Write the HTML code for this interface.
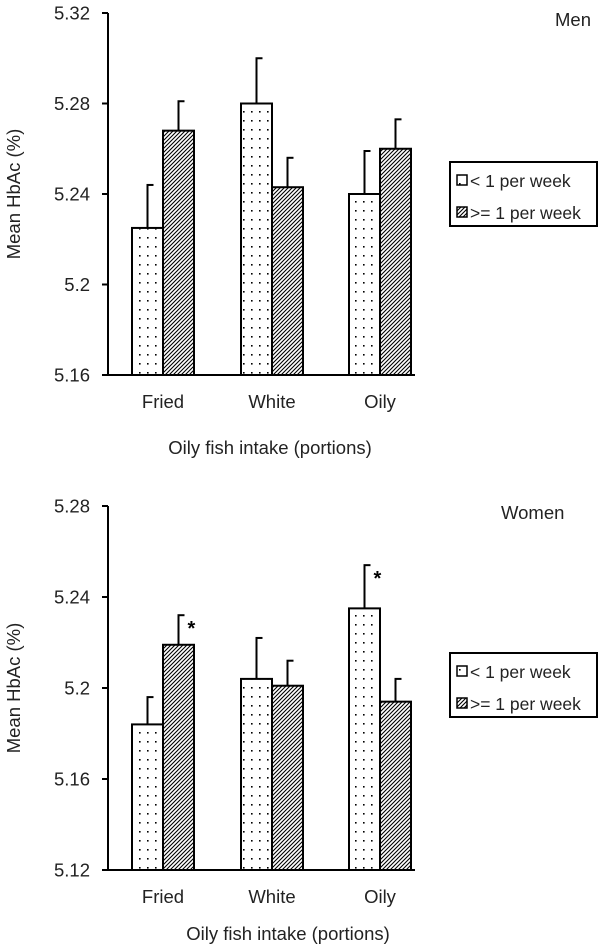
<!DOCTYPE html>
<html><head><meta charset="utf-8"><style>
html,body{margin:0;padding:0;background:#fff}
svg{display:block;font-family:"Liberation Sans",sans-serif}
</style></head><body>
<svg id="c" width="600" height="944" viewBox="0 0 600 944" xmlns="http://www.w3.org/2000/svg">
<defs>
<pattern id="dots" width="8" height="9" patternUnits="userSpaceOnUse"><rect width="8" height="9" fill="#fff"/><rect x="3" y="3" width="1.6" height="1.6" fill="#000"/></pattern>
<pattern id="hatch" width="4" height="4" patternUnits="userSpaceOnUse"><rect width="4" height="4" fill="#fff"/><path d="M-1,5 L5,-1 M-1,1 L1,-1 M3,5 L5,3" stroke="#000" stroke-width="1.1"/></pattern>
</defs>
<g id="top"></g><g id="bot"></g>
</svg>
<script>
const categories = ["Fried","White","Oily"];
const menLow = [5.225, 5.280, 5.240];
const menLowErr = [0.019, 0.020, 0.019];
const menHigh = [5.268, 5.243, 5.260];
const menHighErr = [0.013, 0.013, 0.013];
const menTicks = [5.16, 5.2, 5.24, 5.28, 5.32];
const menTickLabels = ["5.16","5.2","5.24","5.28","5.32"];
const womenLow = [5.184, 5.204, 5.235];
const womenLowErr = [0.012, 0.018, 0.019];
const womenHigh = [5.219, 5.201, 5.194];
const womenHighErr = [0.013, 0.011, 0.010];
const womenStarLow = [false, false, true];
const womenStarHigh = [true, false, false];
const womenTicks = [5.12, 5.16, 5.2, 5.24, 5.28];
const womenTickLabels = ["5.12","5.16","5.2","5.24","5.28"];
const legendLabels = ["< 1 per week", ">= 1 per week"];

const NS="http://www.w3.org/2000/svg";
function mk(parent,tag,attrs,text){const e=document.createElementNS(NS,tag);for(const k in attrs)e.setAttribute(k,attrs[k]);if(text!==undefined)e.textContent=text;parent.appendChild(e);return e;}

function panel(g, o){
  const y=v=>o.y0-(v-o.vmin)/(o.vmax-o.vmin)*(o.y0-o.y1);
  const ax=mk(g,'line',{x1:108,y1:o.y1,x2:108,y2:o.y0+1,stroke:'#000','stroke-width':2});
  
  
  const bx=mk(g,'line',{x1:103,y1:o.y0,x2:415,y2:o.y0,stroke:'#000','stroke-width':2});
  
  
  o.ticks.forEach((t,i)=>{
    const yy=y(t);
    const tk=mk(g,'line',{x1:102,y1:yy,x2:108,y2:yy,stroke:'#000','stroke-width':2});
    
    
    const tl=mk(g,'text',{x:90,y:yy+6.5,'text-anchor':'end','font-size':18.5,fill:'#222'},o.tickLabels[i]);
    
    
  });
  const lefts=[132,241,349];
  const w=31;
  categories.forEach((c,i)=>{
    const x=lefts[i];
    [[o.low,o.lowErr,'url(#dots)',0,o.starLow],[o.high,o.highErr,'url(#hatch)',w,o.starHigh]].forEach(([vals,errs,fill,dx,stars],s)=>{
      const bx0=x+dx, top=y(vals[i]), et=y(vals[i]+errs[i]), cx=bx0+w/2;
      const el=mk(g,'line',{x1:cx,y1:top,x2:cx,y2:et,stroke:'#000','stroke-width':2});
      
      
      const cap=mk(g,'line',{x1:cx-1,y1:et,x2:cx+6,y2:et,stroke:'#000','stroke-width':2});
      
      
      const r=mk(g,'rect',{x:bx0,y:top,width:w,height:o.y0-top,fill:fill,stroke:'#000','stroke-width':2});
      
      
      if(stars&&stars[i]){
        const st=mk(g,'text',{x:cx+9,y:et+20,'font-size':20,'font-weight':'bold'},'*');
        
        
      }
    });
    const xl=mk(g,'text',{x:x+w,y:o.y0+33,'text-anchor':'middle','font-size':18.5,fill:'#222'},c);
    
    
  });
  const xt=mk(g,'text',{x:o.titleCx,y:o.y0+o.titleDy,'text-anchor':'middle','font-size':18.5,fill:'#222'},'Oily fish intake (portions)');
  
  
  const ym=(o.y0+o.y1)/2;
  const yt=mk(g,'text',{x:20,y:ym,'text-anchor':'middle','font-size':18.5,fill:'#222',transform:`rotate(-90 20 ${ym})`},'Mean HbAc (%)');
  
  
  const ti=mk(g,'text',{x:o.titleX,y:o.y1+13,'font-size':18.5,fill:'#222'},o.title);
  
  
  const lg=mk(g,'g',{});
  
  
  mk(lg,'rect',{x:450,y:o.legY,width:147,height:64,fill:'#fff',stroke:'#000','stroke-width':2});
  legendLabels.forEach((l,k)=>{
    const yy=o.legY+19+k*32;
    const sw=mk(lg,'rect',{x:457,y:yy-6,width:10,height:10,fill:k?'url(#hatch)':'url(#dots)',stroke:'#000','stroke-width':1.5});
    
    
    const lt=mk(lg,'text',{x:470,y:yy+6,'font-size':17.5,fill:'#222'},l);
    
    
  });
}
panel(document.getElementById('top'),{y0:375,y1:13,vmin:5.16,vmax:5.32,ticks:menTicks,tickLabels:menTickLabels,low:menLow,lowErr:menLowErr,high:menHigh,highErr:menHighErr,title:'Men',titleX:555,legY:162,titleDy:79,titleCx:270});
panel(document.getElementById('bot'),{y0:870,y1:506,vmin:5.12,vmax:5.28,ticks:womenTicks,tickLabels:womenTickLabels,low:womenLow,lowErr:womenLowErr,high:womenHigh,highErr:womenHighErr,starLow:womenStarLow,starHigh:womenStarHigh,title:'Women',titleX:501,legY:653,titleDy:70,titleCx:288});
</script>
</body></html>
